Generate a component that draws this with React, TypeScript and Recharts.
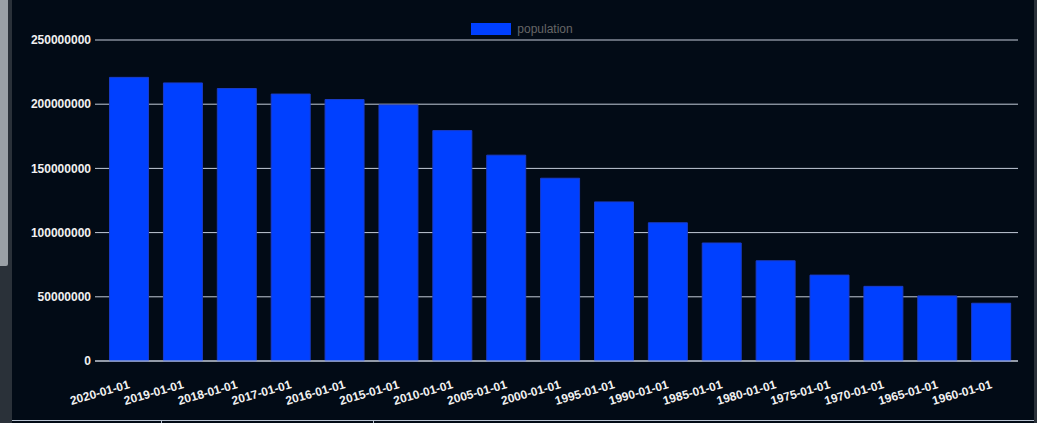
import { Bar, BarChart, CartesianGrid, Legend, XAxis, YAxis } from "recharts";

const years = [
  "2020-01-01", "2019-01-01", "2018-01-01", "2017-01-01", "2016-01-01",
  "2015-01-01", "2010-01-01", "2005-01-01", "2000-01-01", "1995-01-01",
  "1990-01-01", "1985-01-01", "1980-01-01", "1975-01-01", "1970-01-01",
  "1965-01-01", "1960-01-01",
];

const population = [
  220892000, 216565000, 212215000, 207906000, 203631000,
  199427000, 179425000, 160304000, 142344000, 123900000,
  107648000, 91900000, 78054000, 66900000, 58142000,
  50700000, 44989000,
];

const yTicks = [0, 50000000, 100000000, 150000000, 200000000, 250000000];

const chartData = years.map((date, i) => ({ date, population: population[i] }));

const bg = "#020b16";
const gridColor = "#c3cbd8";
const font = "Arial, 'Liberation Sans', sans-serif";

const LegendBox = () => (
  <div style={{ display: "flex", justifyContent: "center", alignItems: "center", paddingTop: 6, paddingLeft: 14, height: 22 }}>
    <span style={{ width: 40, height: 12, background: "#0040ff", display: "inline-block" }} />
    <span style={{ marginLeft: 6, color: "#666", fontSize: 12, fontFamily: font }}>population</span>
  </div>
);

const DateTick = ({ x, y, payload }: any) => (
  <g transform={`translate(${x + 1.5},${y + 25})`}>
    <text
      x={0}
      y={0}
      textAnchor="end"
      fill="#f0f0f0"
      fontSize={12}
      fontWeight="bold"
      fontFamily={font}
      transform="rotate(-16)"
    >
      {payload.value}
    </text>
  </g>
);

export default function App() {
  return (
    <div style={{ position: "absolute", left: 0, top: 0, width: 1037, height: 423, background: "#2a3139", overflow: "hidden" }}>
      <div style={{ position: "absolute", left: 0, top: 0, width: 8, height: 266, background: "#9aa0a6", borderBottomRightRadius: 2 }} />
      <div style={{ position: "absolute", left: 12, top: 0, width: 1022, height: 423, background: bg }}>
        <BarChart
          width={1022}
          height={420}
          data={chartData}
          margin={{ top: 12, right: 16, bottom: 0, left: 0 }}
          barCategoryGap="14%"
          style={{ fontFamily: font }}
        >
          <Legend verticalAlign="top" height={28} content={() => <LegendBox />} />
          <CartesianGrid vertical={false} stroke={gridColor} />
          <XAxis
            dataKey="date"
            height={59}
            padding={{ left: 7, right: 0 }}
            axisLine={{ stroke: gridColor }}
            tickLine={false}
            tickSize={0}
            interval={0}
            tick={<DateTick />}
          />
          <YAxis
            width={83}
            domain={[0, 250000000]}
            ticks={yTicks}
            axisLine={false}
            tickLine={false}
            tickSize={0}
            tickMargin={4}
            tick={{ fill: "#f0f0f0", fontSize: 12, fontWeight: "bold" }}
          />
          <Bar
            dataKey="population"
            fill="#0040ff"
            stroke="#1a3cc8"
            strokeWidth={1}
            isAnimationActive={false}
          />
        </BarChart>
        <div style={{ position: "absolute", left: 0, top: 420, width: 1022, height: 1, background: "#b8c2d0" }} />
        <div style={{ position: "absolute", left: 149, top: 420, width: 1, height: 3, background: "#b8c2d0" }} />
        <div style={{ position: "absolute", left: 361, top: 420, width: 1, height: 3, background: "#b8c2d0" }} />
      </div>
    </div>
  );
}
